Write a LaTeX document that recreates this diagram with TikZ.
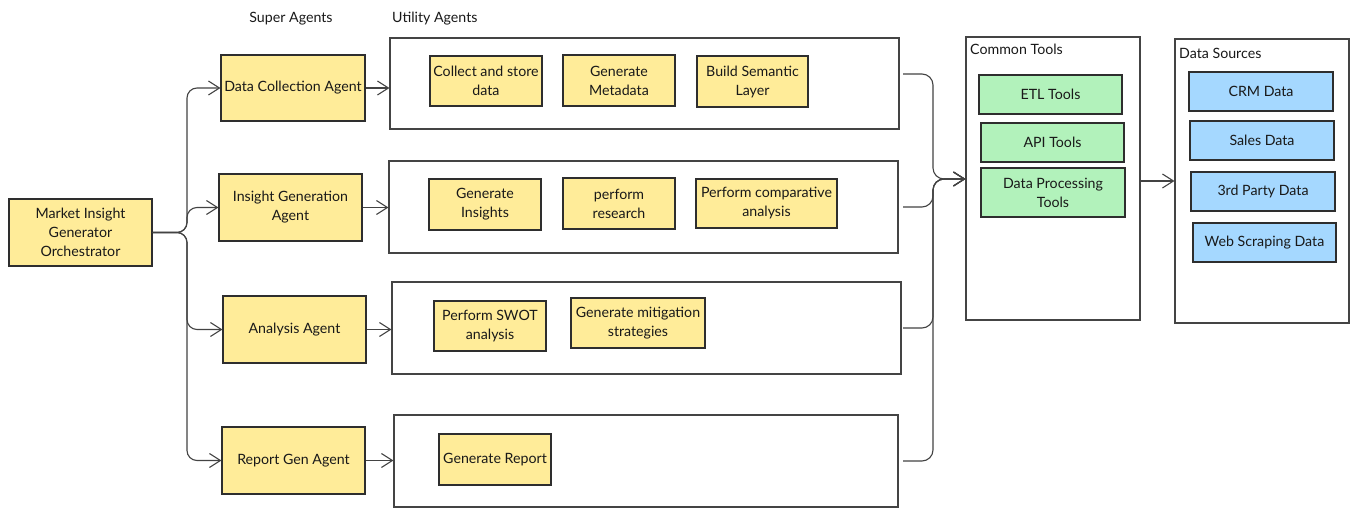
\documentclass[tikz,border=0pt]{standalone}
\usepackage{fontspec}
\setmainfont{Lato}
\usetikzlibrary{arrows.meta}
\definecolor{yel}{HTML}{FFEC99}
\definecolor{grn}{HTML}{B2F2BB}
\definecolor{blu}{HTML}{A5D8FF}
\definecolor{stk}{HTML}{2E2E2E}
\definecolor{cstk}{HTML}{444444}
\begin{document}
\begin{tikzpicture}[x=1pt,y=-1pt,
  base/.style={draw=stk, line width=1.1pt, align=center, inner sep=2pt,
     font=\fontsize{14.2}{19}\selectfont, text=black!90},
  yb/.style={base, fill=yel},
  gb/.style={base, fill=grn},
  bb/.style={base, fill=blu},
  cont/.style={draw=cstk, line width=1.1pt, fill=white},
  lbl/.style={font=\fontsize{14.2}{16}\selectfont, inner sep=0pt, text=black!90},
  arr/.style={draw=stk!90, line width=1.1pt, -{Straight Barb[length=11pt,width=14pt,line width=1.1pt]}},
  con/.style={draw=stk!90, line width=1.1pt}]
\useasboundingbox[fill=white] (0,0) rectangle (1358,518);

% labels
\node[lbl] (lsa) at (291,19) {Super Agents};
\node[lbl, anchor=west] (lua) at (392,19) {Utility Agents};

% orchestrator and super agents
\node[yb, minimum width=143pt, minimum height=67pt] (orch) at (80.5,232.5) {Market Insight\\Generator\\Orchestrator};
\node[yb, minimum width=144pt, minimum height=66pt] (dca) at (293,88) {Data Collection Agent};
\node[yb, minimum width=143pt, minimum height=67pt] (iga) at (290.5,207.5) {Insight Generation\\Agent};
\node[yb, minimum width=143pt, minimum height=67pt] (aa) at (294.5,329.5) {Analysis Agent};
\node[yb, minimum width=143pt, minimum height=67pt] (rga) at (293.5,460.5) {Report Gen Agent};

% utility containers
\node[cont, minimum width=509pt, minimum height=91pt] (u1) at (644.5,83.5) {};
\node[cont, minimum width=509pt, minimum height=92pt] (u2) at (643.5,207) {};
\node[cont, minimum width=509pt, minimum height=92pt] (u3) at (646.5,328) {};
\node[cont, minimum width=504pt, minimum height=92pt] (u4) at (646,461) {};

% utility agents
\node[yb, minimum width=112pt, minimum height=50pt] (c1) at (486,81) {Collect and store\\data};
\node[yb, minimum width=112pt, minimum height=51pt] (c2) at (619,80.5) {Generate\\Metadata};
\node[yb, minimum width=111pt, minimum height=51pt] (c3) at (752.5,81.5) {Build Semantic\\Layer};
\node[yb, minimum width=112pt, minimum height=51pt] (c4) at (485,204.5) {Generate\\Insights};
\node[yb, minimum width=112pt, minimum height=51pt] (c5) at (619,203.5) {perform\\research};
\node[yb, minimum width=141pt, minimum height=49pt] (c6) at (766.5,203.5) {Perform comparative\\analysis};
\node[yb, minimum width=112pt, minimum height=50pt] (c7) at (490,326) {Perform SWOT\\analysis};
\node[yb, minimum width=134pt, minimum height=50pt] (c8) at (638,323) {Generate mitigation\\strategies};
\node[yb, minimum width=112pt, minimum height=51pt] (c9) at (495,459.5) {Generate Report};

% common tools
\node[cont, minimum width=174pt, minimum height=283pt] (ct) at (1053,178.5) {};
\node[lbl, anchor=west] (lct) at (970,49) {Common Tools};
\node[gb, minimum width=143pt, minimum height=39pt] (etl) at (1050.5,94.5) {ETL Tools};
\node[gb, minimum width=143pt, minimum height=39pt] (api) at (1052.5,142.5) {API Tools};
\node[gb, minimum width=144pt, minimum height=49pt] (dp) at (1053,192.5) {Data Processing\\Tools};

% data sources
\node[cont, minimum width=174pt, minimum height=284pt] (ds) at (1262,181) {};
\node[lbl, anchor=west] (lds) at (1179,53) {Data Sources};
\node[bb, minimum width=144pt, minimum height=39pt] (crm) at (1261,91.5) {CRM Data};
\node[bb, minimum width=144pt, minimum height=39pt] (sal) at (1262,140.5) {Sales Data};
\node[bb, minimum width=144pt, minimum height=39pt] (trd) at (1263,191.5) {3rd Party Data};
\node[bb, minimum width=143pt, minimum height=39pt] (web) at (1264.5,242.5) {Web Scraping Data};

% fan-out from orchestrator
\coordinate (fx) at (187,232.5);
\draw[arr, rounded corners=10pt] (orch.east) -- (fx) |- (dca.west);
\draw[arr, rounded corners=10pt] (orch.east) -- (fx) |- (iga.west);
\draw[arr, rounded corners=10pt] (orch.east) -- (fx) |- (aa.west);
\draw[arr, rounded corners=10pt] (orch.east) -- (fx) |- (rga.west);

% super -> utility
\draw[arr] (dca.east) -- (dca.east -| u1.west);
\draw[arr] (iga.east) -- (iga.east -| u2.west);
\draw[arr] (aa.east) -- (aa.east -| u3.west);
\draw[arr] (rga.east) -- (rga.east -| u4.west);

% merge into common tools
\coordinate (m1) at (903,74);
\coordinate (m2) at (903,207);
\coordinate (m3) at (903,328);
\coordinate (m4) at (903,461);
\coordinate (mx) at (933,179);
\draw[arr, rounded corners=11pt] (m1) -| (mx) -- (ct.west |- mx);
\draw[arr, rounded corners=11pt] (m2) -| (mx) -- (ct.west |- mx);
\draw[arr, rounded corners=11pt] (m3) -| (mx) -- (ct.west |- mx);
\draw[arr, rounded corners=11pt] (m4) -| (mx) -- (ct.west |- mx);

% common -> data sources
\draw[arr] (ct.east |- ds.west) -- (ds.west);
\end{tikzpicture}
\end{document}
